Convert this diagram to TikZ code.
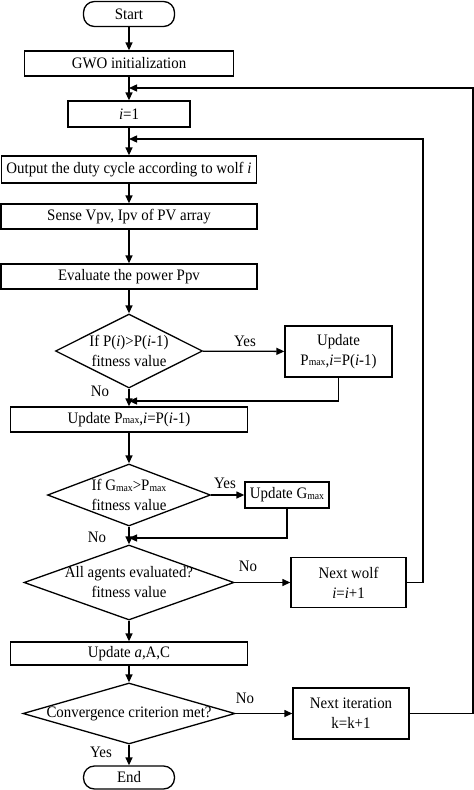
\documentclass[tikz,border=0pt]{standalone}
\usepackage{fontspec}
\setmainfont[FakeStretch=0.93]{Liberation Serif}
\usetikzlibrary{shapes.geometric,arrows.meta}
\newcommand{\mx}{\raisebox{-0.5pt}{\fontsize{10.5}{10.5}\selectfont max}}
\begin{document}
\begin{tikzpicture}[x=1pt,y=-1pt, line width=1.3pt,
 box/.style={draw, rectangle, inner sep=0pt, align=center, font=\fontsize{16}{20}\selectfont},
 term/.style={box, rounded corners=11pt},
 dia/.style={draw, diamond, inner sep=0pt},
 txt/.style={inner sep=0pt, align=center, font=\fontsize{16}{20}\selectfont},
 arr/.style={-{Triangle[length=8pt,width=7pt]}},
 lbl/.style={inner sep=0pt, font=\fontsize{16}{16}\selectfont}]
\useasboundingbox (0,0) rectangle (474,790);

\node[term, minimum width=91pt, minimum height=25pt] (start) at (129,14) {Start};
\node[box, minimum width=209pt, minimum height=25pt] (gwo) at (129,63.5) {GWO initialization};
\node[box, minimum width=122pt, minimum height=26pt] (i1) at (129,114) {\textit{i}=1};
\node[box, minimum width=255pt, minimum height=27pt] (out) at (129,169.5) {Output the duty cycle according to wolf \textit{i}};
\node[box, minimum width=256pt, minimum height=25pt] (sense) at (129,216.5) {Sense Vpv, Ipv of PV array};
\node[box, minimum width=256pt, minimum height=25pt] (eval) at (129,276.5) {Evaluate the power Ppv};
\node[dia, minimum width=147pt, minimum height=74pt] (d1) at (129,351) {};
\node[txt] at (d1) {If P(\textit{i})>P(\textit{i}-1)\\fitness value};
\node[box, minimum width=107pt, minimum height=51pt] (up1) at (338.5,351.5) {Update\\P\mx,\textit{i}=P(\textit{i}-1)};
\node[box, minimum width=237pt, minimum height=25pt] (upmax) at (129,419.5) {Update P\mx,\textit{i}=P(\textit{i}-1)};
\node[dia, minimum width=163pt, minimum height=62pt] (d2) at (129,495) {};
\node[txt] at (d2) {If G\mx>P\mx\\fitness value};
\node[box, minimum width=84pt, minimum height=26pt] (upg) at (287,495) {Update G\mx};
\node[dia, minimum width=210pt, minimum height=75pt] (d3) at (129,582.5) {};
\node[txt] at (d3) {All agents evaluated?\\fitness value};
\node[box, minimum width=115pt, minimum height=50pt] (wolf) at (348.5,582.5) {Next wolf\\\textit{i}=\textit{i}+1};
\node[box, minimum width=237pt, minimum height=23pt] (upa) at (129,653.5) {Update \textit{a},A,C};
\node[dia, minimum width=212pt, minimum height=61pt] (d4) at (129,713.5) {};
\node[txt] at (d4) {Convergence criterion met?};
\node[box, minimum width=116pt, minimum height=51pt] (iter) at (351,713.5) {Next iteration\\k=k+1};
\node[term, minimum width=91pt, minimum height=23pt] (end) at (129,777.5) {End};

\coordinate (j1) at (129,88);
\coordinate (j2) at (129,139);
\coordinate (j3) at (129,401);
\coordinate (j4) at (129,538);

\draw[arr] (start) -- (gwo);
\draw[arr] (gwo) -- (i1);
\draw[arr] (i1) -- (out);
\draw[arr] (out) -- (sense);
\draw[arr] (sense) -- (eval);
\draw[arr] (eval) -- (d1);
\draw[arr] (d1) -- (up1);
\draw[arr] (d1) -- (upmax);
\draw[arr] (up1.south) |- (j3);
\draw[arr] (upmax) -- (d2);
\draw[arr] (d2) -- (upg);
\draw[arr] (d2) -- (d3);
\draw[arr] (upg.south) |- (j4);
\draw[arr] (d3) -- (wolf);
\draw[arr] (wolf.east) -| (423,139) -- (j2);
\draw[arr] (d3) -- (upa);
\draw[arr] (upa) -- (d4);
\draw[arr] (d4) -- (iter);
\draw[arr] (iter.east) -| (473,88) -- (j1);
\draw[arr] (d4) -- (end);

\node[lbl] (l1) at (245,341) {Yes};
\node[lbl] (l2) at (100,391) {No};
\node[lbl] (l3) at (225,483) {Yes};
\node[lbl] (l4) at (97,537) {No};
\node[lbl] (l5) at (248,566) {No};
\node[lbl] (l6) at (245,698) {No};
\node[lbl] (l7) at (101,752) {Yes};
\end{tikzpicture}
\end{document}
